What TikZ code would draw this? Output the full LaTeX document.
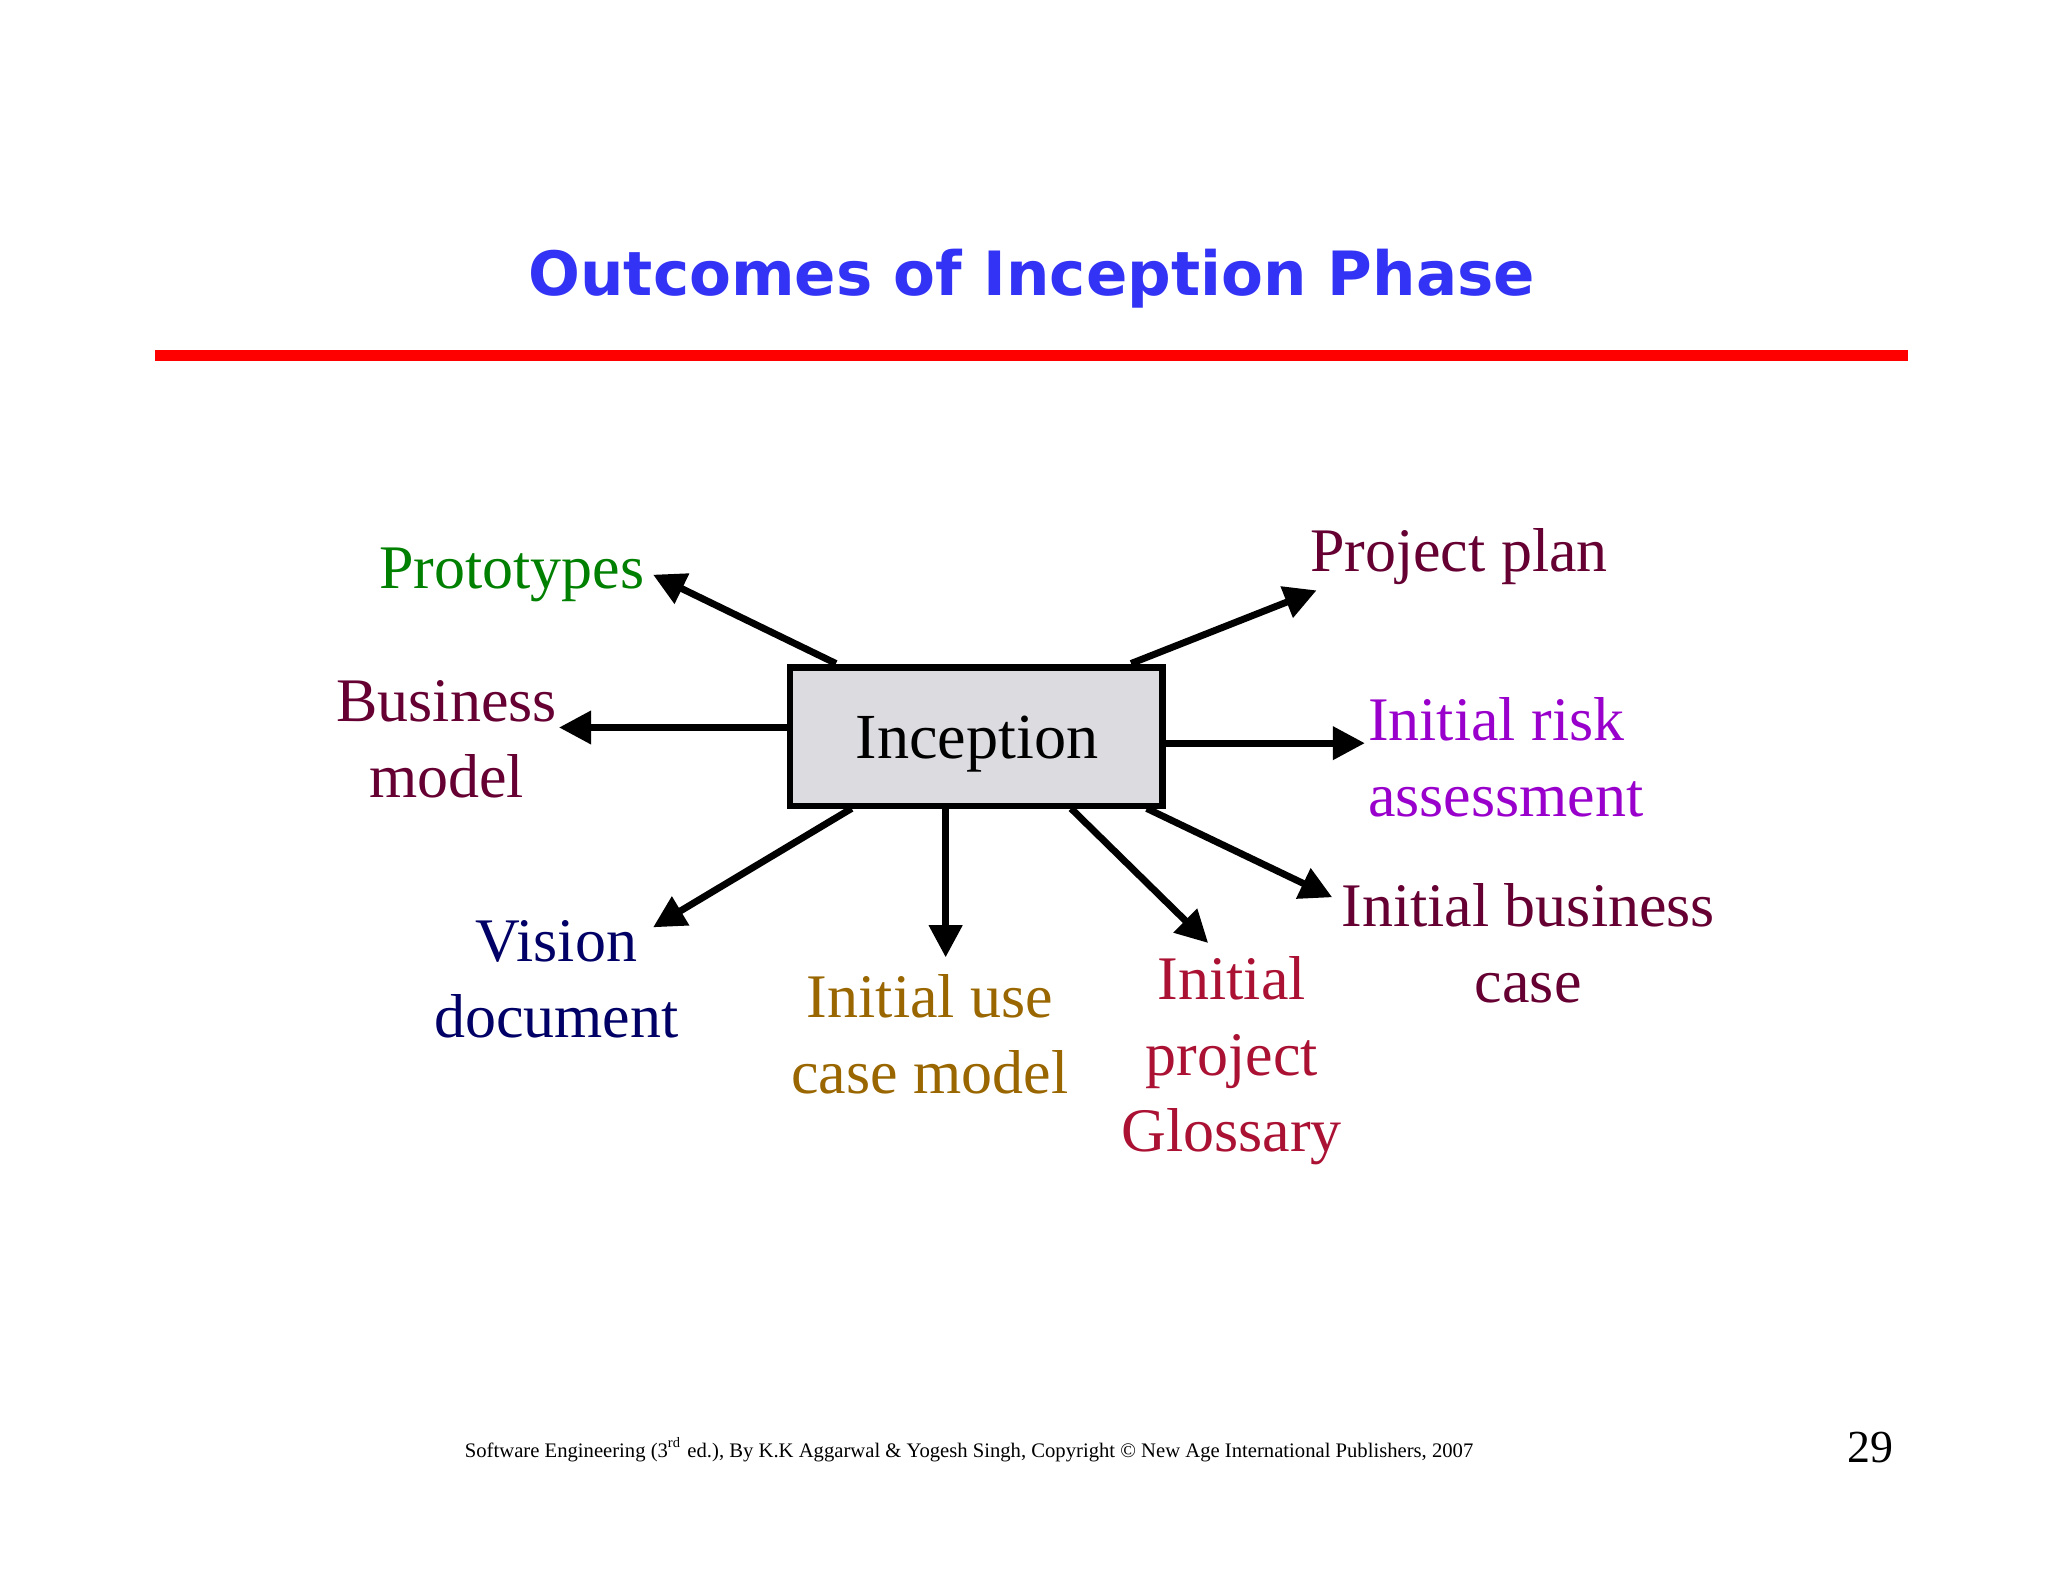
\documentclass[tikz,border=0pt]{standalone}
\usepackage{fontspec}
\setmainfont{Liberation Serif}
\newfontfamily\titlefont{DejaVu Sans}
\usetikzlibrary{arrows.meta}
\definecolor{titleblue}{HTML}{3333F5}
\definecolor{wine}{HTML}{660033}
\definecolor{protogreen}{HTML}{008000}
\definecolor{visionnavy}{HTML}{000066}
\definecolor{usecasebrown}{HTML}{996600}
\definecolor{glossred}{HTML}{AA1133}
\definecolor{riskpurple}{HTML}{9900CC}
\definecolor{boxgray}{HTML}{DCDBE0}
\tikzset{
  outcome/.style={align=center, font=\fontsize{13.5}{16.5}\selectfont},
  outarrow/.style={line width=1.5pt, -{Triangle[length=7pt,width=7pt]}}
}
\begin{document}
\begin{tikzpicture}[x=1cm,y=1cm]
  \useasboundingbox (0,0) rectangle (15.68,12.10);
  \fill[white] (0,0) rectangle (15.68,12.10);
  % title and rule
  \node (title) [text=titleblue, font=\titlefont\bfseries\fontsize{13.3}{16}\selectfont] at (7.90,9.97) {Outcomes of Inception Phase};
  \draw [red, line width=2.3pt] (1.19,9.38) -- (14.61,9.38);
  % centre box
  \node (inception) [draw, line width=1.4pt, fill=boxgray, minimum width=2.85cm, minimum height=1.06cm] at (7.475,6.46) {};
  \node (inclabel) [font=\fontsize{14}{17}\selectfont] at (7.48,6.40) {Inception};
  % outcomes
  \node (proto) [outcome, text=protogreen] at (3.92,7.70) {Prototypes};
  \node (business) [outcome, text=wine] at (3.42,6.44) {Business\\model};
  \node (vision) [outcome, text=visionnavy] at (4.26,4.60) {Vision\\document};
  \node (usecase) [outcome, text=usecasebrown] at (7.12,4.18) {Initial use\\case model};
  \node (gloss) [outcome, text=glossred] at (9.43,3.98) {Initial\\project\\Glossary};
  \node (bcase) [outcome, text=wine] at (11.70,4.88) {Initial business\\case};
  \node (risk) [outcome, text=riskpurple, align=left, anchor=west] at (10.35,6.30) {Initial risk\\assessment};
  \node (plan) [outcome, text=wine] at (11.17,7.84) {Project plan};
  % arrow ends
  \coordinate (s1) at (6.40,7.02); \coordinate (e1) at (5.00,7.70);
  \coordinate (s2) at (6.05,6.53); \coordinate (e2) at (4.28,6.53);
  \coordinate (s3) at (6.52,5.91); \coordinate (e3) at (5.00,5.00);
  \coordinate (s4) at (7.24,5.91); \coordinate (e4) at (7.24,4.77);
  \coordinate (s5) at (8.20,5.91); \coordinate (e5) at (9.25,4.88);
  \coordinate (s6) at (8.78,5.91); \coordinate (e6) at (10.20,5.23);
  \coordinate (s7) at (8.90,6.41); \coordinate (e7) at (10.45,6.41);
  \coordinate (s8) at (8.66,7.02); \coordinate (e8) at (10.08,7.58);
  \foreach \i in {1,...,8}
    \draw [outarrow] (s\i) -- (e\i);
  % footer
  \node (footer) [font=\fontsize{4.5}{6}\selectfont] at (7.42,1.00) {Software Engineering (3\textsuperscript{rd} ed.), By K.K Aggarwal \& Yogesh Singh, Copyright © New Age International Publishers, 2007};
  \node (page) [font=\fontsize{10}{12}\selectfont] at (14.32,1.02) {29};
\end{tikzpicture}
\end{document}
